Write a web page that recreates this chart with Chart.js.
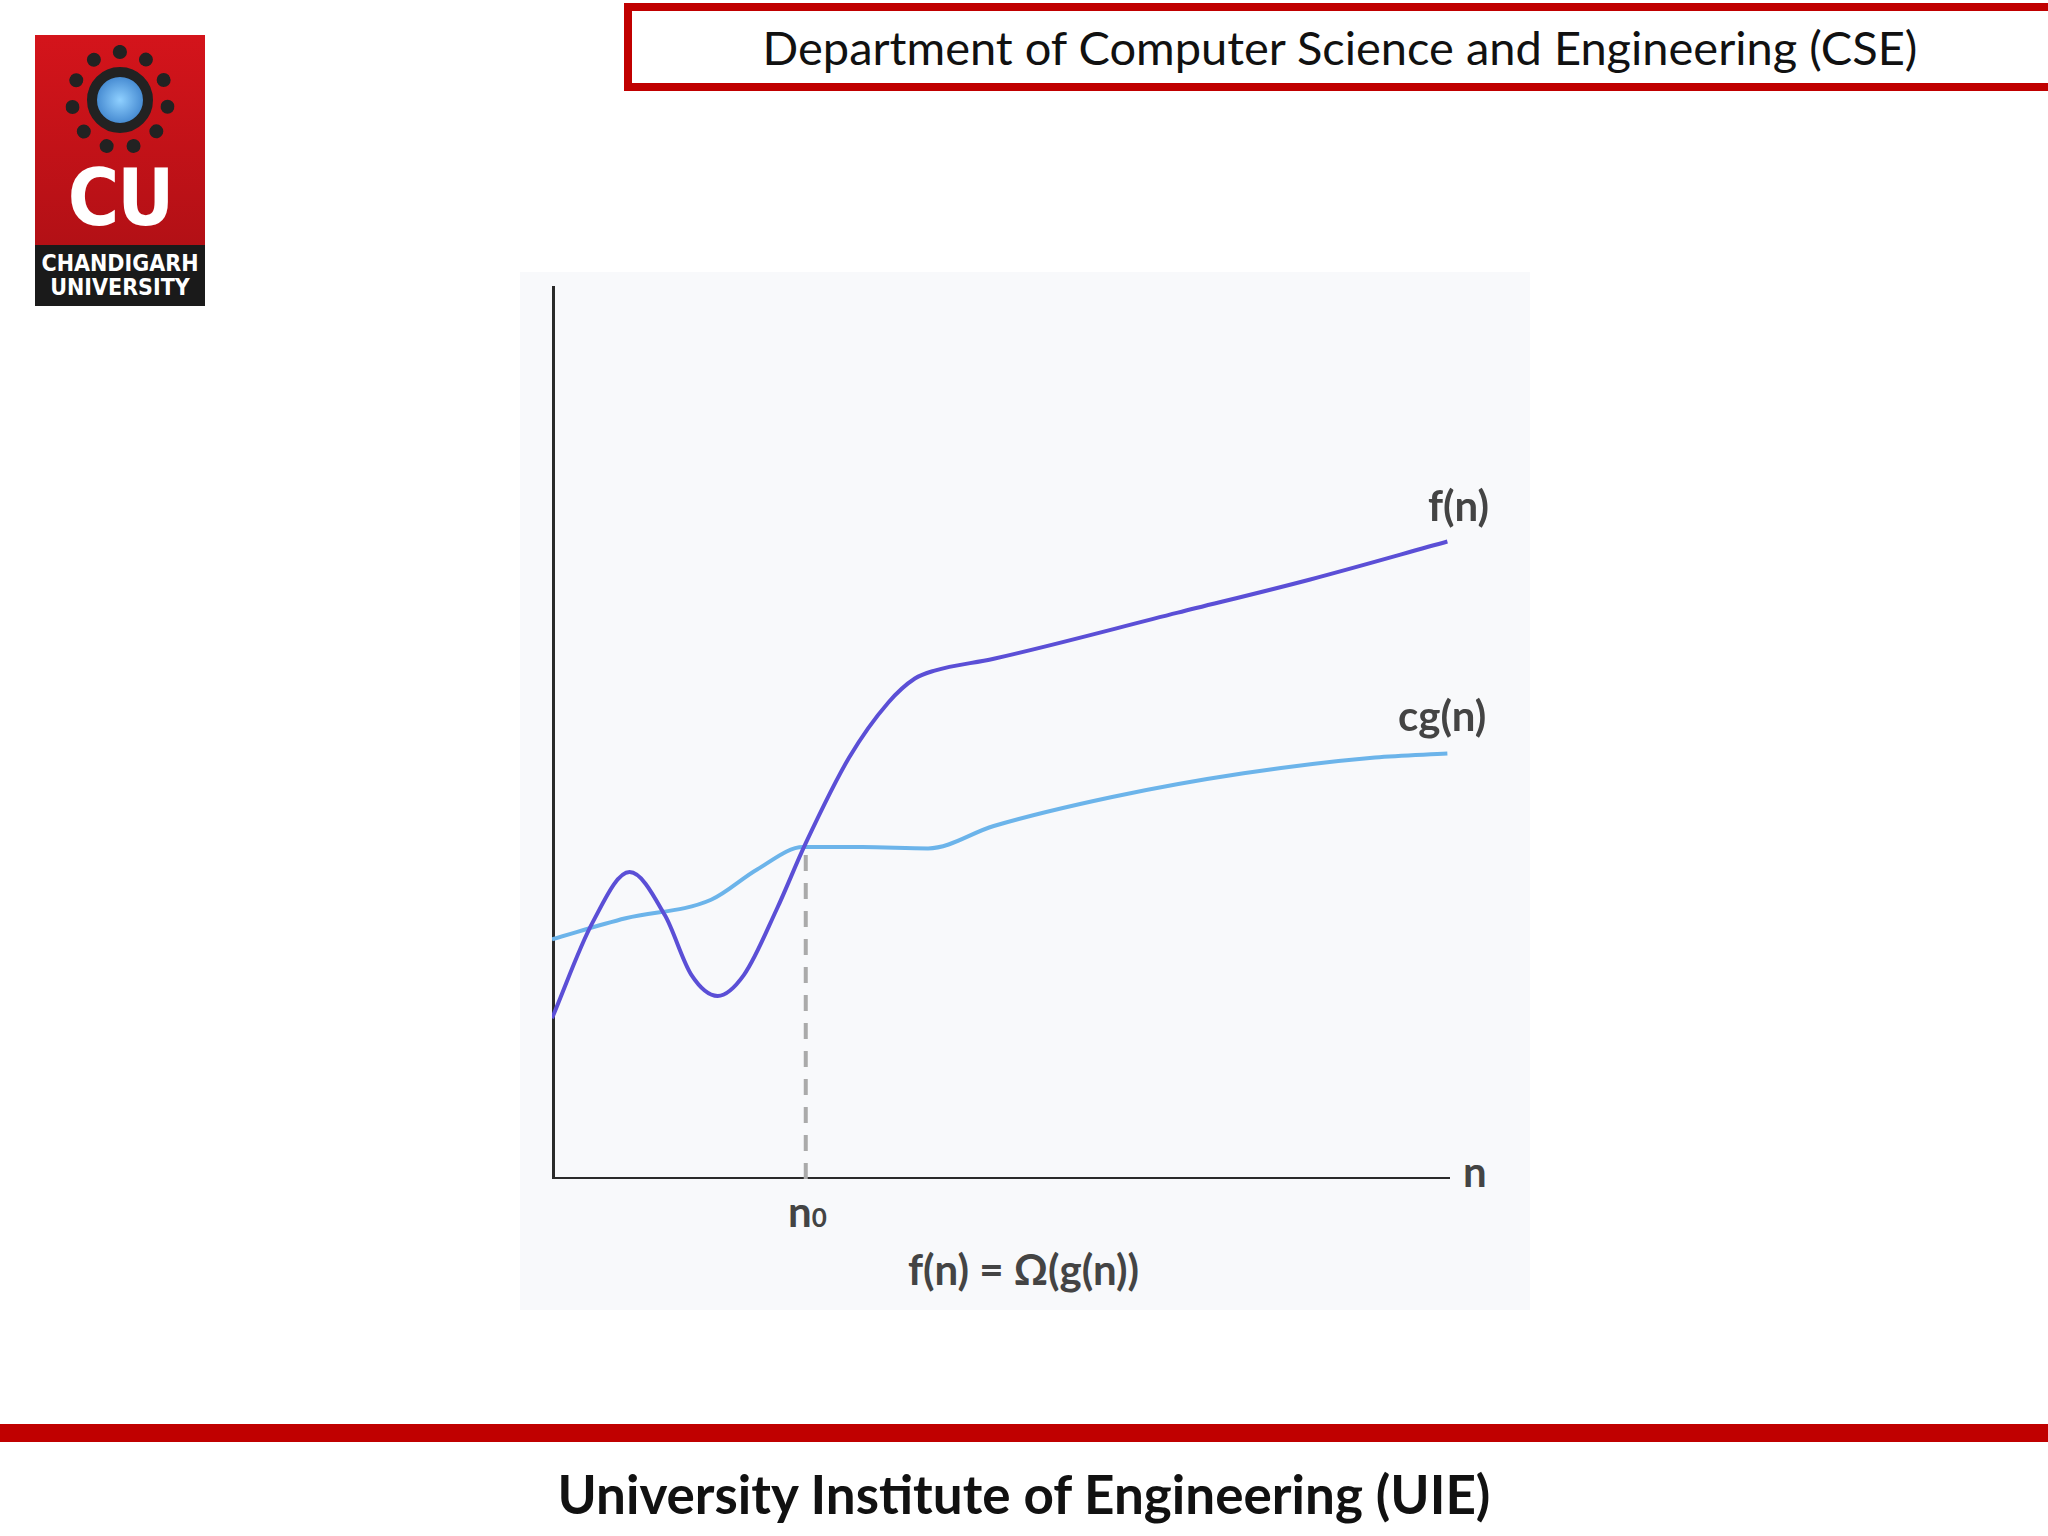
<!DOCTYPE html>
<html><head><meta charset="utf-8">
<script src="https://cdn.jsdelivr.net/npm/chart.js@4"></script>
<style>
body{margin:0;width:2048px;height:1536px;background:#fff;position:relative;overflow:hidden;font-family:Lato,"Open Sans",sans-serif}
.abs{position:absolute}
#hdr{left:624px;top:3px;width:1416px;height:72px;border:8px solid #c00000;border-right:none;display:flex;align-items:center;justify-content:center;font-size:47px;color:#111;box-sizing:content-box}
#panel{left:520px;top:272px;width:1010px;height:1038px;background:#f8f9fb}
.lbl{font-weight:bold;color:#444;font-size:42px}
#bar{left:0;top:1424px;width:2048px;height:18px;background:#c00000}
#ftr{left:0;top:1462px;width:2048px;text-align:center;font-weight:bold;font-size:53px;color:#111}
#logo{left:35px;top:35px;width:170px;height:271px;background:linear-gradient(#d4141b,#a90f14);}
</style></head><body>
<div id="hdr" class="abs">Department of Computer Science and Engineering (CSE)</div>
<div id="logo" class="abs">
  <div class="abs" style="left:30px;top:10px;width:110px;height:110px;border-radius:50%;border:14px dotted #222;box-sizing:border-box"></div>
  <div class="abs" style="left:52px;top:32px;width:66px;height:66px;border-radius:50%;border:10px solid #222;box-sizing:border-box;background:radial-gradient(#8fd0ff,#2a70c0)"></div>
  <div class="abs" style="left:0;top:118px;width:170px;text-align:center;color:#fff;font:bold 78px 'DejaVu Sans Condensed','Liberation Sans Narrow',sans-serif;letter-spacing:-2px">CU</div>
  <div class="abs" style="left:0;top:210px;width:170px;height:61px;background:#1a1a1a;color:#fff;text-align:center;font:bold 23px 'Liberation Sans Narrow','DejaVu Sans Condensed',sans-serif;line-height:24px;padding-top:6px;box-sizing:border-box">CHANDIGARH<br>UNIVERSITY</div>
</div>
<div id="panel" class="abs"></div>
<div class="abs" style="left:552px;top:286px;width:898px;height:893px"><canvas id="c"></canvas></div>
<div class="abs lbl" style="left:1428px;top:480px">f(n)</div>
<div class="abs lbl" style="left:1398px;top:690px">cg(n)</div>
<div class="abs lbl" style="left:1463px;top:1146px">n</div>
<div class="abs lbl" style="left:788px;top:1186px">n<span style="font-size:26px">0</span></div>
<div class="abs lbl" style="left:908px;top:1244px">f(n) = Ω(g(n))</div>
<div id="bar" class="abs"></div>
<div id="ftr" class="abs">University Institute of Engineering (UIE)</div>
<script>
const fX=[0,31,59,86,106,126,146,171,193,226,256,276,291,336,476,576,681];
const fY=[122,195,233,200,155,139,155,205,255,320,362,380,386,395,430,455,484];
const gX=[0,56,121,156,191,236,286,336,426,526,626,681];
const gY=[182,198,212,235,252,252,251,268,290,308,320,323];
const n0=193, n0Top=252;
const pts=(xs,ys)=>xs.map((x,i)=>({x,y:ys[i]}));
new Chart(document.getElementById('c'),{
 type:'line',
 data:{datasets:[
  {data:pts(fX,fY),borderColor:'#5b4fd6',borderWidth:4,pointRadius:0,cubicInterpolationMode:'monotone'},
  {data:pts(gX,gY),borderColor:'#6cb4ea',borderWidth:4,pointRadius:0,cubicInterpolationMode:'monotone'},
  {data:[{x:n0,y:0},{x:n0,y:n0Top}],borderColor:'#aaaaaa',borderWidth:4,borderDash:[16,12],pointRadius:0}
 ]},
 options:{responsive:true,maintainAspectRatio:false,animation:false,
  plugins:{legend:{display:false},tooltip:{enabled:false}},
  scales:{
   x:{type:'linear',min:0,max:683,ticks:{display:false},grid:{display:false,drawTicks:false},border:{color:'#2a2a2a',width:5}},
   y:{min:0,max:678,ticks:{display:false},grid:{display:false,drawTicks:false},border:{color:'#2a2a2a',width:5}}
  }}
});
</script>
</body></html>
